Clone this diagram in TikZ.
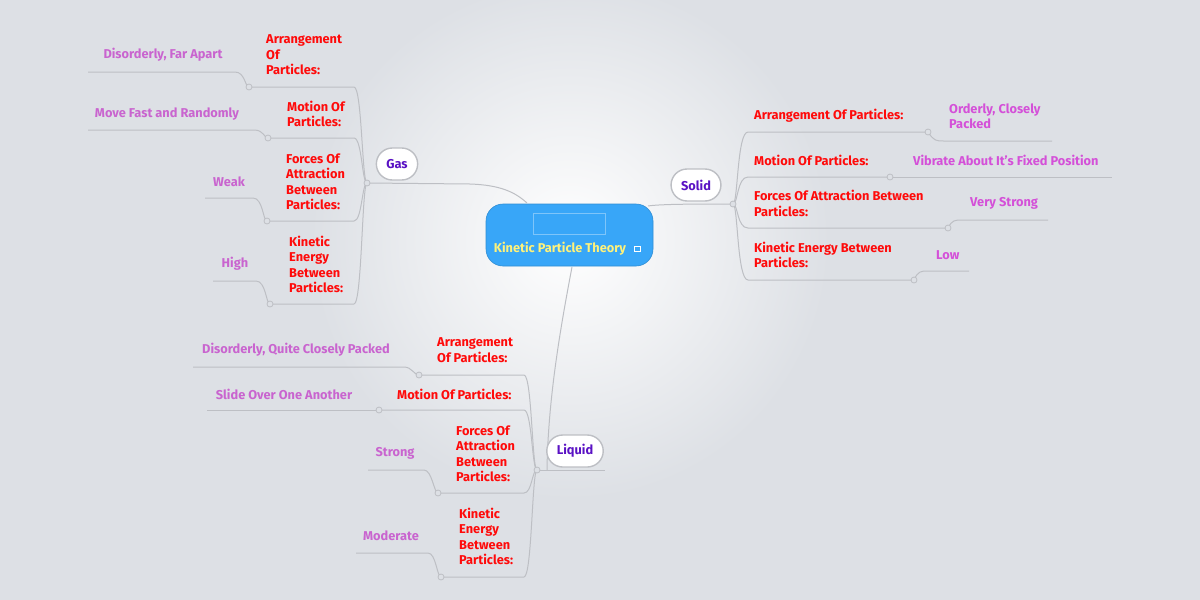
\documentclass[tikz,border=0pt]{standalone}
\usepackage{fontspec}
\setmainfont{Fira Sans}
\definecolor{bg}{HTML}{DDE0E5}
\definecolor{ln}{HTML}{BDBFC4}
\definecolor{lab}{HTML}{FF0A0A}
\definecolor{val}{HTML}{C964CF}
\definecolor{hubc}{HTML}{5A12C4}
\definecolor{cbox}{HTML}{38A6F8}
\definecolor{ctext}{HTML}{FFF27A}
\tikzset{
 lbl/.style={text=lab,font=\fontsize{12.8}{15.5}\selectfont\bfseries,inner sep=0pt,align=left},
 vl/.style={text=val,font=\fontsize{12.8}{15.5}\selectfont\bfseries,inner sep=0pt,align=left},
 hubnode/.style={draw=ln,line width=1.4pt,fill=white,rounded corners=16pt,minimum height=32pt,inner xsep=10pt,text=hubc,font=\fontsize{12.8}{14}\selectfont\bfseries},
 dot/.style={circle,draw=ln,fill=bg,line width=0.8pt,minimum size=6pt,inner sep=0pt},
 con/.style={draw=ln,line width=1pt}
}
\begin{document}
\begin{tikzpicture}[x=1pt,y=-1pt]
\fill[bg] (0,0) rectangle (1200,600);
\useasboundingbox (0,0) rectangle (1200,600);
\shade[inner color=white,outer color=bg] (570,240) circle (260);
% centre
\node[draw=cbox!85!black,line width=0.6pt,fill=cbox,rounded corners=17pt,minimum width=167pt,minimum height=62pt] (center) at (569.5,235) {};
\node[draw=white!35!cbox,line width=0.5pt,minimum width=72pt,minimum height=21pt,inner sep=0pt] (img) at (569,223.5) {};
\node[text=ctext,font=\fontsize{12.8}{14}\selectfont\bfseries,inner sep=0pt] (ctitle) at (560,249) {Kinetic Particle Theory};
\node[draw=white,line width=0.5pt,minimum width=6pt,minimum height=5pt,inner sep=0pt] (icon) at (637,249) {};
% ===== Gas =====
\coordinate (gh) at (367,183);
\draw[con] (gh) -- (470,184) .. controls (500,185) and (515,192) .. (527,203);
\node[hubnode] (gas) at (397,164) {Gas};
\foreach \y/\cx/\vy/\vs in {87/249/72/88,138/268/130/88,221/267/198/205,304/270/281/213}{
 \draw[con] (\cx,\y) -- (354,\y) .. controls (362,\y) and (362,183) .. (gh);
 \draw[con] (\vs,\vy) -- (\cx-14,\vy) .. controls (\cx-4,\vy) and (\cx-4,\y) .. (\cx,\y);
 \node[dot] at (\cx,\y) {};
}
\node[dot] (ghd) at (gh) {};
\node[lbl,anchor=west] (g1) at (266,55) {Arrangement\\Of\\Particles:};
\node[lbl,anchor=west] (g2) at (287,114) {Motion Of\\Particles:};
\node[lbl,anchor=west] (g3) at (286,181.5) {Forces Of\\Attraction\\Between\\Particles:};
\node[lbl,anchor=west] (g4) at (289,264.5) {Kinetic\\Energy\\Between\\Particles:};
\node[vl] (gv1) at (163,55) {Disorderly, Far Apart};
\node[vl] (gv2) at (167,114) {Move Fast and Randomly};
\node[vl] (gv3) at (229,182) {Weak};
\node[vl] (gv4) at (235,264) {High};
% ===== Solid =====
\coordinate (sh) at (733,204);
\draw[con] (648,206) .. controls (660,204) and (700,204) .. (sh);
\node[hubnode] (solid) at (696,185) {Solid};
\foreach \y/\cx in {132/928,177/890,228/948,280/914}{
 \draw[con] (sh) .. controls (738,204) and (737,\y) .. (748,\y) -- (\cx,\y);
}
\draw[con] (928,132) .. controls (934,141) and (936,141) .. (944,141) -- (1052,141);
\draw[con] (890,177) -- (1112,177);
\draw[con] (948,228) .. controls (952,220) and (955,220) .. (962,220) -- (1048,220);
\draw[con] (914,280) .. controls (918,271) and (921,271) .. (928,271) -- (969,271);
\foreach \cx/\y in {928/132,890/177,948/228,914/280}{\node[dot] at (\cx,\y) {};}
\node[dot] (shd) at (sh) {};
\node[lbl,anchor=west] (s1) at (754,116) {Arrangement Of Particles:};
\node[lbl,anchor=west] (s2) at (754,160) {Motion Of Particles:};
\node[lbl,anchor=west] (s3) at (754,203.5) {Forces Of Attraction Between\\Particles:};
\node[lbl,anchor=west] (s4) at (754,255) {Kinetic Energy Between\\Particles:};
\node[vl,anchor=west,text=val!80!magenta] (sv1) at (949,116) {Orderly, Closely\\Packed};
\node[vl,anchor=west,text=val!80!magenta] (sv2) at (913,160) {Vibrate About It's Fixed Position};
\node[vl,anchor=west,text=val!80!magenta] (sv3) at (970,203) {Very Strong};
\node[vl,anchor=west,text=val!80!magenta] (sv4) at (936,255) {Low};
% ===== Liquid =====
\coordinate (lh) at (537,470);
\draw[con] (572,267) .. controls (560,330) and (548,400) .. (547,470);
\draw[con] (lh) -- (605,470);
\node[hubnode] (liquid) at (575,451) {Liquid};
\foreach \y/\cx in {375/419,410/379,493/438,577/441}{
 \draw[con] (\cx,\y) -- (524,\y) .. controls (532,\y) and (532,470) .. (lh);
}
\draw[con] (193,367) -- (404,367) .. controls (412,367) and (414,375) .. (419,375);
\draw[con] (207,410) -- (379,410);
\draw[con] (368,470) -- (424,470) .. controls (432,470) and (434,493) .. (438,493);
\draw[con] (356,553) -- (428,553) .. controls (436,553) and (437,577) .. (441,577);
\foreach \cx/\y in {419/375,379/410,438/493,441/577}{\node[dot] at (\cx,\y) {};}
\node[dot] (lhd) at (lh) {};
\node[lbl,anchor=west] (l1) at (437,350) {Arrangement\\Of Particles:};
\node[lbl,anchor=west] (l2) at (397,394) {Motion Of Particles:};
\node[lbl,anchor=west] (l3) at (456,453.5) {Forces Of\\Attraction\\Between\\Particles:};
\node[lbl,anchor=west] (l4) at (459,536.5) {Kinetic\\Energy\\Between\\Particles:};
\node[vl] (lv1) at (296,350) {Disorderly, Quite Closely Packed};
\node[vl] (lv2) at (284,394) {Slide Over One Another};
\node[vl] (lv3) at (395,453) {Strong};
\node[vl] (lv4) at (391,536) {Moderate};
\end{tikzpicture}
\end{document}
